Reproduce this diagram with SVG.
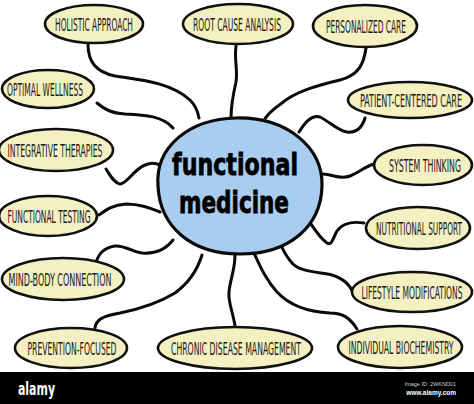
<svg xmlns="http://www.w3.org/2000/svg" width="474" height="404" viewBox="0 0 474 404">
<defs>
<style>
.n ellipse{fill:#f4f0c2;stroke:#111;stroke-width:2.6}
.n text{font-family:"DejaVu Sans Condensed","Liberation Sans Narrow","Liberation Sans",sans-serif;font-size:17px;fill:#1a1a1a;text-anchor:middle}
.c path{fill:none;stroke:#0a0a0a;stroke-width:3;stroke-linecap:round;stroke-linejoin:round}
.hub{fill:#a9cdee;stroke:#0a0a0a;stroke-width:3.2}
.ht{font-family:"DejaVu Sans Condensed","Liberation Sans Narrow","Liberation Sans",sans-serif;font-weight:bold;font-size:31px;fill:#000;stroke:#000;stroke-width:0.8;text-anchor:middle}
</style>
</defs>
<rect width="474" height="404" fill="#fff"/>
<g class="c" id="connectors">
<path d="M88,44 C88,62 96,72 115,76 C140,80 170,82 190,100 C196,106 198,112 199,118"/>
<path d="M97,103 C105,110 112,113 125,114 C145,115 163,116 173,128"/>
<path d="M236,46 C234,60 238,70 236,82 C233,95 231,105 231,118"/>
<path d="M366,48 C364,62 360,75 340,80 C315,86 295,92 282,103 C272,110 266,115 264,121"/>
<path d="M365,118 C362,128 356,133 347,132 C338,131 330,122 320,117 C312,114 305,122 299,132"/>
<path d="M374,164 C366,166 360,172 350,176 C340,180 332,174 323,174"/>
<path d="M364,223 C352,221 342,224 337,231 C333,238 332,246 327,243 C320,238 315,230 311,224"/>
<path d="M106,169 C110,175 114,183 120,184 C127,184 133,170 145,165 C152,162 156,163 160,165"/>
<path d="M99,215 C106,210 112,205 126,204 C140,204 150,208 160,212"/>
<path d="M96,262 C99,254 103,248 115,246 C125,245 132,252 142,253 C155,254 166,249 173,240"/>
<path d="M95,328 C96,320 102,316 120,313 C140,309 160,302 175,293 C190,282 198,268 202,255"/>
<path d="M235,326 C233,312 228,303 229,292 C230,280 235,270 235,255"/>
<path d="M357,329 C350,318 343,313 330,313 C310,312 290,306 277,292 C266,280 260,266 254,253"/>
<path d="M355,297 C351,286 345,279 332,275 C318,272 300,272 292,263 C286,256 283,250 281,245"/>
</g>
<g id="hub">
<path class="hub" d="M158,186 C155,146 190,119 236,118 C288,117 323,148 322,186 C321,226 290,254 240,254 C190,254 160,226 158,186 Z"/>
<text class="ht" x="235" y="175" textLength="126" lengthAdjust="spacingAndGlyphs">functional</text>
<text class="ht" x="234" y="213" textLength="110" lengthAdjust="spacingAndGlyphs">medicine</text>
</g>
<g class="n" id="n-holistic"><ellipse cx="94" cy="24" rx="49" ry="19"/><text x="94" y="30.5" textLength="78" lengthAdjust="spacingAndGlyphs">HOLISTIC APPROACH</text></g>
<g class="n" id="n-root"><ellipse cx="238" cy="24" rx="55" ry="20"/><text x="237" y="30.5" textLength="88" lengthAdjust="spacingAndGlyphs">ROOT CAUSE ANALYSIS</text></g>
<g class="n" id="n-personalized"><ellipse cx="365" cy="26" rx="52" ry="21"/><text x="366" y="32.5" textLength="80" lengthAdjust="spacingAndGlyphs">PERSONALIZED CARE</text></g>
<g class="n" id="n-optimal"><ellipse cx="48" cy="89" rx="46" ry="19"/><text x="45" y="95.5" textLength="76" lengthAdjust="spacingAndGlyphs">OPTIMAL WELLNESS</text></g>
<g class="n" id="n-patient"><ellipse cx="410" cy="100" rx="62" ry="18"/><text x="411" y="106.5" textLength="102" lengthAdjust="spacingAndGlyphs">PATIENT-CENTERED CARE</text></g>
<g class="n" id="n-integrative"><ellipse cx="56" cy="150" rx="57" ry="21"/><text x="55" y="156.5" textLength="95" lengthAdjust="spacingAndGlyphs">INTEGRATIVE THERAPIES</text></g>
<g class="n" id="n-system"><ellipse cx="423" cy="165" rx="49" ry="20"/><text x="425" y="171.5" textLength="72" lengthAdjust="spacingAndGlyphs">SYSTEM THINKING</text></g>
<g class="n" id="n-testing"><ellipse cx="48" cy="216" rx="49" ry="20"/><text x="49" y="222.5" textLength="83" lengthAdjust="spacingAndGlyphs">FUNCTIONAL TESTING</text></g>
<g class="n" id="n-nutritional"><ellipse cx="418" cy="228" rx="52" ry="21"/><text x="419" y="234.5" textLength="86" lengthAdjust="spacingAndGlyphs">NUTRITIONAL SUPPORT</text></g>
<g class="n" id="n-mindbody"><ellipse cx="63" cy="279" rx="61" ry="21"/><text x="60" y="285.5" textLength="103" lengthAdjust="spacingAndGlyphs">MIND-BODY CONNECTION</text></g>
<g class="n" id="n-lifestyle"><ellipse cx="412" cy="292" rx="60" ry="20"/><text x="412" y="298.5" textLength="101" lengthAdjust="spacingAndGlyphs">LIFESTYLE MODIFICATIONS</text></g>
<g class="n" id="n-prevention"><ellipse cx="71" cy="348" rx="56" ry="20"/><text x="72" y="354.5" textLength="89" lengthAdjust="spacingAndGlyphs">PREVENTION-FOCUSED</text></g>
<g class="n" id="n-chronic"><ellipse cx="235" cy="348" rx="77" ry="21"/><text x="236" y="354.5" textLength="130" lengthAdjust="spacingAndGlyphs">CHRONIC DISEASE MANAGEMENT</text></g>
<g class="n" id="n-biochem"><ellipse cx="400" cy="347" rx="62" ry="21"/><text x="401" y="353.5" textLength="105" lengthAdjust="spacingAndGlyphs">INDIVIDUAL BIOCHEMISTRY</text></g>
<g id="footer">
<rect x="0" y="372" width="474" height="32" fill="#000"/>
<text x="18" y="395" font-family="DejaVu Sans Condensed,Liberation Sans,sans-serif" font-weight="bold" font-size="17" fill="#fff" textLength="37" lengthAdjust="spacingAndGlyphs">alamy</text>
<text x="456" y="386" font-family="Liberation Sans,sans-serif" font-size="5.5" fill="#ccc" text-anchor="end">Image ID: 2WKND01</text>
<text x="456" y="395" font-family="Liberation Sans,sans-serif" font-weight="bold" font-size="6.5" fill="#fff" text-anchor="end">www.alamy.com</text>
</g>
</svg>
